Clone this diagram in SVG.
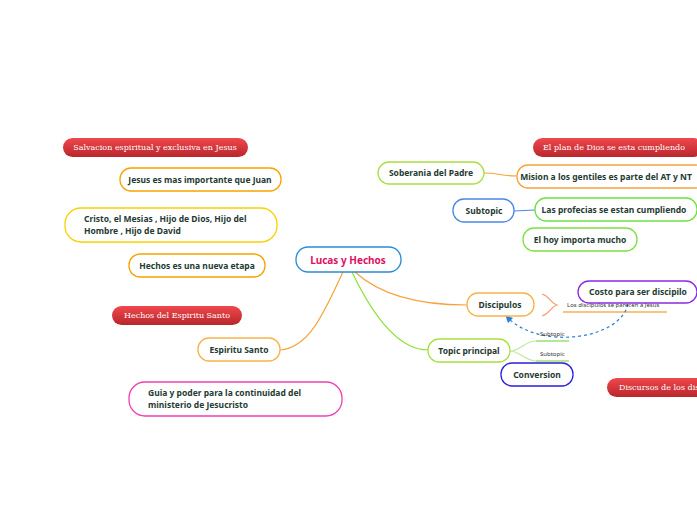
<svg xmlns="http://www.w3.org/2000/svg" width="697" height="520" viewBox="0 0 697 520">
<defs>
<linearGradient id="rg" x1="0" y1="0" x2="0" y2="1"><stop offset="0" stop-color="#f0484c"/><stop offset="1" stop-color="#b8262c"/></linearGradient>
<marker id="ah" viewBox="0 0 10 10" refX="5" refY="5" markerWidth="6" markerHeight="6" orient="auto"><path d="M0,0L10,5L0,10z" fill="#2a7fd6"/></marker>
</defs>
<style>
.n{fill:#fff;stroke-width:1.3}
.t{font-family:"Noto Sans",sans-serif;font-size:8.5px;font-weight:bold;fill:#1f3b32}
.r{fill:url(#rg)}
.rt{font-family:"DejaVu Serif","Liberation Serif",serif;font-size:8px;fill:#fff}
.s{font-family:"Noto Sans",sans-serif;font-size:6px;fill:#333}
.c{fill:none;stroke-width:1.2}
</style>
<rect width="697" height="520" fill="#fff"/>
<g id="connectors">
<path class="c" stroke="#f7a23a" d="M343,272 C325,310 310,348 280,350"/>
<path class="c" stroke="#f7a23a" d="M355,272 C380,295 420,305 467,305"/>
<path class="c" stroke="#8ae234" d="M352,272 C375,320 400,350 428,350"/>
<path class="c" stroke="#f7a23a" d="M484,173 C500,173 500,176 517,176"/>
<path class="c" stroke="#4a86e8" d="M514,211 L535,210"/>
<path class="c" stroke="#bfe89a" d="M510,351 C520,351 525,341 536,341 M510,351 C520,351 525,361 536,361"/>
<path class="c" stroke="#6ecf2a" d="M536,341 H569 M536,361 H569"/>
<path class="c" stroke="#f4a07a" d="M542,294 C550,296 550,303 557,305 C550,307 550,314 542,316"/>
<path class="c" stroke="#f08c00" d="M563,312 H667"/>
<path class="c" stroke="#2a7fd6" stroke-dasharray="3,3" marker-end="url(#ah)" d="M628,304 C620,340 540,350 508,318"/>
</g>
<g id="n-lucas"><rect class="n" stroke="#2a8bd8" x="296" y="247" width="105" height="25" rx="12"/><text x="348" y="264" text-anchor="middle" style="font-family:'Noto Sans',sans-serif;font-size:10px;font-weight:bold;fill:#e0115f">Lucas y Hechos</text></g>
<g id="n-salv"><rect class="r" x="63" y="138" width="185" height="19" rx="9.5"/><text class="rt" x="155" y="150" text-anchor="middle">Salvacion espiritual y exclusiva en Jesus</text></g>
<g id="n-jesus"><rect class="n" stroke="#f7a200" x="120" y="168" width="161" height="23" rx="11"/><text class="t" x="200" y="183" text-anchor="middle">Jesus es mas importante que Juan</text></g>
<g id="n-cristo"><rect class="n" stroke="#f7d100" x="65" y="208" width="212" height="34" rx="16"/><text class="t" x="84" y="222">Cristo, el Mesias , Hijo de Dios, Hijo del</text><text class="t" x="84" y="234">Hombre , Hijo de David</text></g>
<g id="n-hechos"><rect class="n" stroke="#f7a200" x="129" y="254" width="136" height="23" rx="11"/><text class="t" x="197" y="269" text-anchor="middle">Hechos es una nueva etapa</text></g>
<g id="n-hes"><rect class="r" x="112" y="306" width="130" height="19" rx="9.5"/><text class="rt" x="177" y="318" text-anchor="middle">Hechos del Espiritu Santo</text></g>
<g id="n-es"><rect class="n" stroke="#f7b24a" x="198" y="338" width="82" height="23" rx="11"/><text class="t" x="239" y="353" text-anchor="middle">Espiritu Santo</text></g>
<g id="n-guia"><rect class="n" stroke="#f040b0" x="129" y="382" width="213" height="34" rx="16"/><text class="t" x="148" y="396">Guia y poder para la continuidad del</text><text class="t" x="148" y="408">ministerio de Jesucristo</text></g>
<g id="n-plan"><rect class="r" x="533" y="138" width="170" height="19" rx="9.5"/><text class="rt" x="614" y="150" text-anchor="middle">El plan de Dios se esta cumpliendo</text></g>
<g id="n-sob"><rect class="n" stroke="#a8e040" x="378" y="162" width="106" height="22" rx="11"/><text class="t" x="431" y="176" text-anchor="middle">Soberania del Padre</text></g>
<g id="n-mision"><rect class="n" stroke="#f7a23a" x="517" y="165" width="190" height="23" rx="11"/><text class="t" x="606" y="180" text-anchor="middle">Mision a los gentiles es parte del AT y NT</text></g>
<g id="n-sub"><rect class="n" stroke="#4a86e8" x="453" y="199" width="61" height="23" rx="11"/><text class="t" x="484" y="214" text-anchor="middle">Subtopic</text></g>
<g id="n-prof"><rect class="n" stroke="#6ee040" x="535" y="198" width="162" height="23" rx="11"/><text class="t" x="614" y="213" text-anchor="middle">Las profecias se estan cumpliendo</text></g>
<g id="n-hoy"><rect class="n" stroke="#7ee040" x="523" y="228" width="114" height="23" rx="11"/><text class="t" x="580" y="243" text-anchor="middle">El hoy importa mucho</text></g>
<g id="n-disc"><rect class="n" stroke="#f7b24a" x="467" y="293" width="67" height="23" rx="11"/><text class="t" x="500" y="308" text-anchor="middle">Discipulos</text></g>
<g id="n-costo"><rect class="n" stroke="#8a2be2" x="578" y="281" width="119" height="22" rx="11"/><text class="t" x="638" y="295" text-anchor="middle">Costo para ser discipilo</text></g>
<g id="n-los"><text class="s" x="567" y="307">Los discipulos se parecen a Jesus</text></g>
<g id="n-topic"><rect class="n" stroke="#a8e040" x="428" y="339" width="82" height="23" rx="11"/><text class="t" x="469" y="354" text-anchor="middle">Topic principal</text></g>
<g id="n-st1"><text class="s" x="540" y="336">Subtopic</text></g>
<g id="n-st2"><text class="s" x="540" y="356">Subtopic</text></g>
<g id="n-conv"><rect class="n" stroke="#2a1ed8" x="501" y="363" width="72" height="23" rx="11"/><text class="t" x="537" y="378" text-anchor="middle">Conversion</text></g>
<g id="n-disc2"><rect class="r" x="607" y="378" width="110" height="19" rx="9.5"/><text class="rt" x="619" y="390">Discursos de los discipulos</text></g>
</svg>
